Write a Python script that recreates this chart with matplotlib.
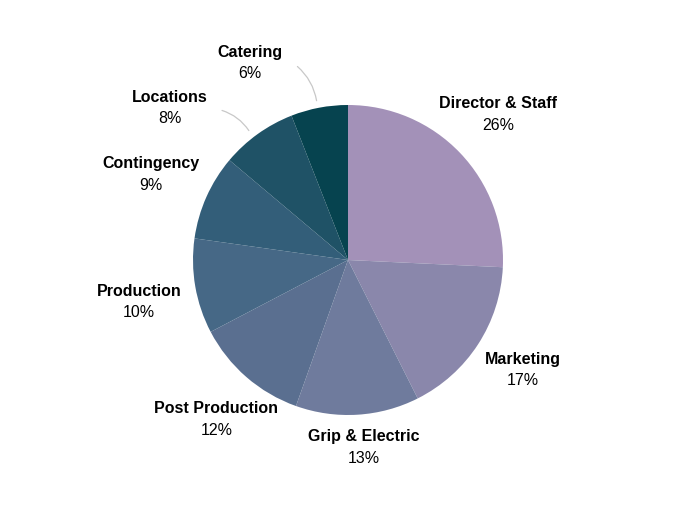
import matplotlib.pyplot as plt

categories = ["Director & Staff", "Marketing", "Grip & Electric", "Post Production",
              "Production", "Contingency", "Locations", "Catering"]
values = [26, 17, 13, 12, 10, 9, 8, 6]
colors = ["#a391b8", "#8a87ab", "#6f7b9d", "#5a6f90", "#466886", "#335e79", "#1f5266", "#06434f"]

# label centres in axis units (radius = 1)
label_pos = [(0.97, 0.94), (1.13, -0.71), (0.10, -1.21), (-0.85, -1.03),
             (-1.35, -0.27), (-1.27, 0.55), (-1.15, 0.98), (-0.63, 1.27)]

fig = plt.figure(figsize=(6.95, 5.21), dpi=100)
ax = fig.add_axes([(348 - 155) / 695, (261 - 155) / 521, 310 / 695, 310 / 521])
ax.pie(values, colors=colors, startangle=90, counterclock=False, radius=1,
       wedgeprops=dict(linewidth=0))
ax.set_xlim(-1, 1)
ax.set_ylim(-1, 1)
ax.set_aspect("equal")

tot = sum(values)
for name, v, (x, y) in zip(categories, values, label_pos):
    ax.text(x, y + 0.07, name, ha="center", va="center", fontsize=11.5,
            fontweight="bold", family="Liberation Sans", clip_on=False)
    ax.text(x, y - 0.07, f"{round(100 * v / tot)}%", ha="center", va="center",
            fontsize=11.5, family="Liberation Sans", clip_on=False)

# leader lines
ax.annotate("", xy=(-0.20, 1.01), xytext=(-0.34, 1.26), annotation_clip=False,
            arrowprops=dict(arrowstyle="-", color="#c8c8c8", lw=0.9,
                            connectionstyle="arc3,rad=-0.2"))
ax.annotate("", xy=(-0.63, 0.82), xytext=(-0.83, 0.97), annotation_clip=False,
            arrowprops=dict(arrowstyle="-", color="#c8c8c8", lw=0.9,
                            connectionstyle="arc3,rad=-0.2"))

fig.savefig("out.png", dpi=100)
